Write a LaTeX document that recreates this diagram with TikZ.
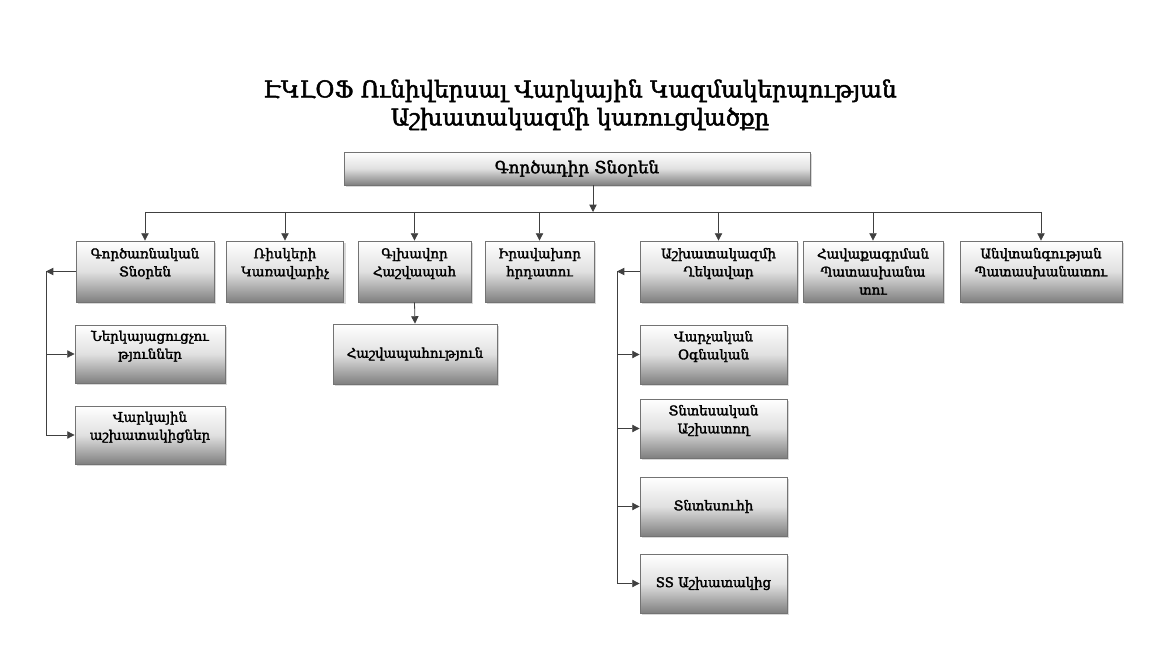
\documentclass[tikz,border=0pt]{standalone}
\usepackage{fontspec}
\setmainfont{DejaVu Serif}
\newfontfamily\heavy{DejaVu Serif}[FakeBold=2.2]
\usetikzlibrary{arrows.meta,shadows}
\begin{document}
\begin{tikzpicture}[
      x=0.75pt, y=0.75pt,
      every node/.style={font=\heavy\fontsize{10}{13.5}\selectfont},
      box/.style={draw=black!55, line width=0.6pt, align=center, inner sep=2pt,
                  top color=white, bottom color=black!50, middle color=black!12,
                  drop shadow={shadow xshift=1.5pt, shadow yshift=-1.5pt,
                               fill=black!30, opacity=0.5}},
      high/.style={text depth=14pt},
      flow/.style={-{Triangle[length=5.5pt,width=5.5pt]}, draw=black!75, line width=0.6pt},
      link/.style={draw=black!75, line width=0.6pt}
    ]
    \useasboundingbox (0,0) rectangle (1160,650);

    % Title
    \node[align=center, font=\heavy\fontsize{17.3}{21}\selectfont] (title) at (580,545)
      {ԷԿԼՕՖ Ունիվերսալ Վարկային Կազմակերպության\\
       Աշխատակազմի կառուցվածքը};

    % Top box
    \node[box, minimum width=349.5pt, minimum height=24.75pt,
          font=\heavy\fontsize{12.5}{15}\selectfont] (dir) at (577,481.5) {Գործադիր Տնօրեն};

    % Second row
    \node[box, high, minimum width=103.5pt, minimum height=45.75pt] (ops)   at (145,378.5)  {Գործառնական\\Տնօրեն};
    \node[box, high, minimum width=87.75pt, minimum height=45.75pt] (risk)  at (285,378.5)  {Ռիսկերի\\Կառավարիչ};
    \node[box, high, minimum width=84.75pt, minimum height=45.75pt] (acc)   at (414.5,378.5) {Գլխավոր\\Հաշվապահ};
    \node[box, high, minimum width=81.75pt, minimum height=45.75pt] (law)   at (539.5,378.5) {Իրավախոր\\հրդատու};
    \node[box, high, minimum width=117.75pt, minimum height=45.75pt] (staff) at (718.5,378.5) {Աշխատակազմի\\Ղեկավար};
    \node[box, minimum width=105pt, minimum height=45.75pt] (coll)        at (873,378.5)  {Հավաքագրման\\Պատասխանա\\տու};
    \node[box, high, minimum width=121.5pt, minimum height=45.75pt] (secu)  at (1041,378.5) {Անվտանգության\\Պատասխանատու};

    % Under the operations director
    \node[box, high, minimum width=112.5pt, minimum height=43.5pt] (rep)  at (150,296) {Ներկայացուցչու\\թյուններ};
    \node[box, high, minimum width=112.5pt, minimum height=43.5pt] (loan) at (150,215) {Վարկային\\աշխատակիցներ};

    % Under the chief accountant
    \node[box, minimum width=123pt, minimum height=45pt] (book) at (415,296) {Հաշվապահություն};

    % Under the head of staff
    \node[box, high, minimum width=110.25pt, minimum height=44.25pt] (adm) at (713.5,295.5) {Վարչական\\Օգնական};
    \node[box, high, minimum width=110.25pt, minimum height=44.25pt] (eco) at (713.5,221.5) {Տնտեսական\\Աշխատող};
    \node[box, minimum width=110.25pt, minimum height=44.25pt] (hk)        at (713.5,143.5) {Տնտեսուհի};
    \node[box, minimum width=110.25pt, minimum height=44.25pt] (ss)        at (713.5,66.5)  {SS Աշխատակից};

    % Bus below the top box
    \coordinate (bus) at (593,438);
    \draw[flow] (bus |- dir.south) -- (bus);
    \draw[link] (ops.north |- bus) -- (secu.north |- bus);
    \foreach \n in {ops,risk,acc,law,staff,coll,secu}{
      \draw[flow] (\n.north |- bus) -- (\n.north);
    }

    % Left branch
    \coordinate (lbus) at (46,380);
    \draw[flow] (ops.west) -- (lbus |- ops.west);
    \foreach \n in {rep,loan}{
      \draw[flow] (lbus |- ops.west) |- (\n.west);
    }

    % Accountant -> accounting
    \draw[flow] (acc.south) -- (book.north);

    % Right branch
    \coordinate (rbus) at (617,380);
    \draw[flow] (staff.west) -- (rbus |- staff.west);
    \foreach \n in {adm,eco,hk,ss}{
      \draw[flow] (rbus |- staff.west) |- (\n.west);
    }
  \end{tikzpicture}
\end{document}
